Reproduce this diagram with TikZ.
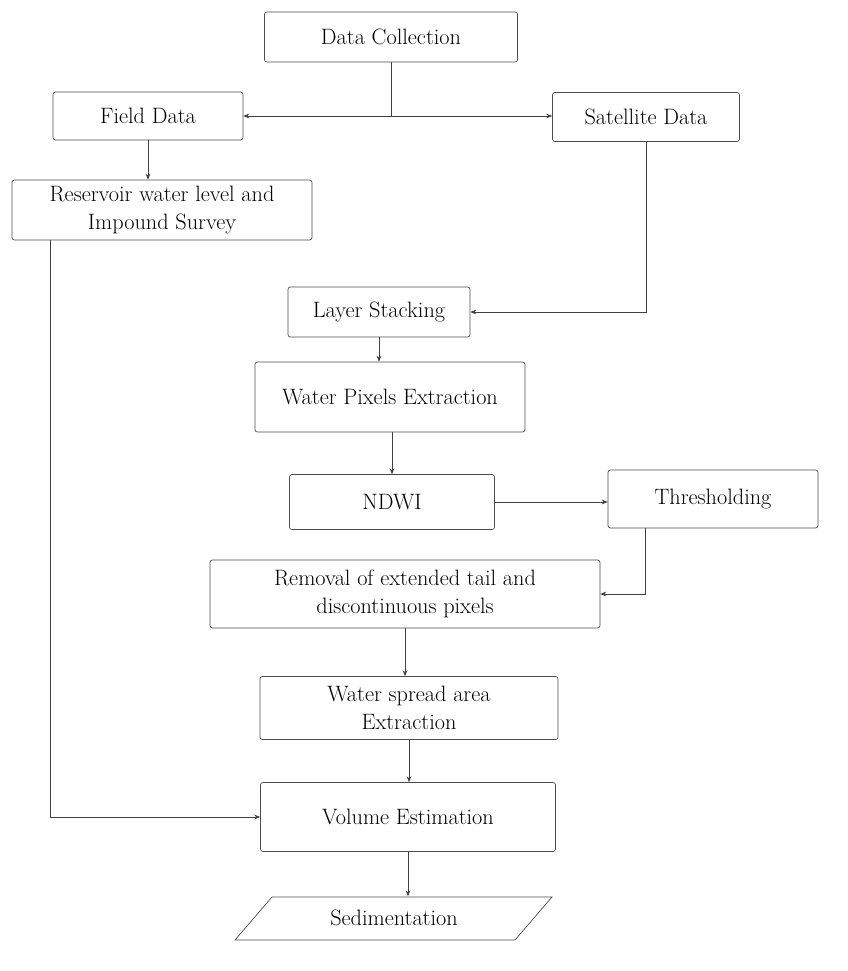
\documentclass[tikz,border=0pt]{standalone}
\usetikzlibrary{arrows.meta,shapes.geometric}
\begin{document}
\begin{tikzpicture}[x=0.03cm,y=-0.03cm,
  bx/.style={draw=black!70,line width=0.6pt,rounded corners=2pt,align=center,font=\fontsize{19}{24}\selectfont,inner sep=0pt},
  ar/.style={-{Stealth[length=5pt,width=4pt]},line width=0.6pt,draw=black!75}]
\useasboundingbox (0,0) rectangle (848,971);
\node[bx,minimum width=253*0.03cm,minimum height=50*0.03cm] (dc) at (391,37) {Data Collection};
\node[bx,minimum width=190*0.03cm,minimum height=48*0.03cm] (fd) at (148,116) {Field Data};
\node[bx,minimum width=187*0.03cm,minimum height=49*0.03cm] (sd) at (646,117) {Satellite Data};
\node[bx,minimum width=300*0.03cm,minimum height=60*0.03cm] (rw) at (162,210) {Reservoir water level and\\Impound Survey};
\node[bx,minimum width=182*0.03cm,minimum height=50*0.03cm] (ls) at (379,312) {Layer Stacking};
\node[bx,minimum width=270*0.03cm,minimum height=70*0.03cm] (wp) at (390,397) {Water Pixels Extraction};
\node[bx,minimum width=205*0.03cm,minimum height=55*0.03cm] (nd) at (392,502) {NDWI};
\node[bx,minimum width=210*0.03cm,minimum height=58*0.03cm] (th) at (713,499) {Thresholding};
\node[bx,minimum width=390*0.03cm,minimum height=68*0.03cm] (rm) at (405,594) {Removal of extended tail and\\discontinuous pixels};
\node[bx,minimum width=298*0.03cm,minimum height=63*0.03cm] (ws) at (409,708) {Water spread area\\Extraction};
\node[bx,minimum width=295*0.03cm,minimum height=69*0.03cm] (ve) at (408,817) {Volume Estimation};
\node[font=\fontsize{19}{24}\selectfont,minimum width=250*0.03cm,minimum height=43*0.03cm,inner sep=0pt] (se) at (394,918) {Sedimentation};
\draw[draw=black!70,line width=0.6pt] (235,940) -- (272,897) -- (552,897) -- (515,940) -- cycle;
\coordinate (j) at (dc.south |- fd.east);
\draw[line width=0.6pt,draw=black!75] (dc.south) -- (j);
\draw[{Stealth[length=5pt,width=4pt]}-{Stealth[length=5pt,width=4pt]},line width=0.6pt,draw=black!75] (fd.east) -- (sd.west|-fd.east);
\draw[ar] (fd.south) -- (fd.south|-rw.north);
\draw[ar] (sd.south) |- (ls.east);
\draw[ar] (ls.south) -- (ls.south|-wp.north);
\draw[ar] (wp.south-|nd.north) -- (nd.north);
\draw[ar] (nd.east) -- (th.west|-nd.east);
\draw[ar] ([xshift=-68*0.03cm]th.south) |- (rm.east);
\draw[ar] (rm.south) -- (rm.south|-ws.north);
\draw[ar] (ws.south) -- (ws.south|-ve.north);
\draw[ar] (ve.south) -- (ve.south|-se.north);
\draw[ar] ([xshift=-112*0.03cm]rw.south) |- (ve.west);
\end{tikzpicture}
\end{document}
